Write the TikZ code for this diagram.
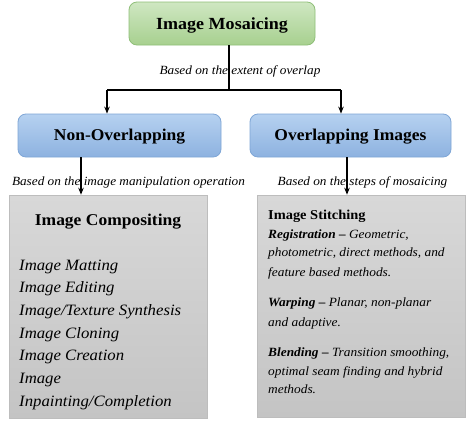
\documentclass[tikz,border=0pt]{standalone}
\usepackage{fontspec}
\setmainfont{Liberation Serif}[FakeStretch=1.06]
\usetikzlibrary{arrows.meta}
\definecolor{gtop}{HTML}{CFE7C2}
\definecolor{gbot}{HTML}{A7D08F}
\definecolor{gline}{HTML}{8FBF78}
\definecolor{btop}{HTML}{B6D1F0}
\definecolor{bbot}{HTML}{8DB2E0}
\definecolor{bline}{HTML}{7FA6D6}
\definecolor{ktop}{HTML}{D8D8D8}
\definecolor{kbot}{HTML}{C4C4C4}
\definecolor{kline}{HTML}{BDBDBD}
\tikzset{
  greenbox/.style={draw=gline, line width=0.8pt, rounded corners=8pt, top color=gtop, bottom color=gbot, minimum width=186pt, minimum height=43pt, text height=11.2pt, text depth=0pt, font=\fontsize{17}{19}\selectfont\bfseries},
  bluebox/.style={draw=bline, line width=0.8pt, rounded corners=8pt, top color=btop, bottom color=bbot, minimum height=43pt, text height=10.9pt, text depth=0pt, font=\fontsize{16.5}{18}\selectfont\bfseries},
  greybox/.style={draw=kline, line width=0.6pt, top color=ktop, bottom color=kbot},
  lbl/.style={font=\fontsize{12.5}{14}\selectfont\itshape, inner sep=0pt, anchor=base},
  item/.style={font=\fontsize{15.8}{18}\selectfont\itshape, anchor=base west, inner sep=0pt},
  ritem/.style={font=\fontsize{12.6}{14}\selectfont\itshape, anchor=base west, inner sep=0pt},
  head/.style={font=\fontsize{16.5}{18}\selectfont\bfseries, inner sep=0pt},
  arr/.style={-{Stealth[length=7pt,width=5.5pt]}, line width=1.1pt},
  conn/.style={line width=1.1pt}
}
\begin{document}
\begin{tikzpicture}[x=1pt,y=-1pt]
\useasboundingbox[fill=white] (0,0) rectangle (474,424);
\node[greenbox] (top) at (222,23.5) {Image Mosaicing};
\node[bluebox, minimum width=203pt] (left) at (119.5,135.5) {Non-Overlapping};
\node[bluebox, minimum width=201pt] (right) at (350.5,135.5) {Overlapping Images};
\node[greybox, minimum width=198pt, minimum height=223pt] (lg) at (108,306.5) {};
\node[greybox, minimum width=208pt, minimum height=222pt] (rg) at (361,306) {};
\coordinate (split) at (229,90);
\coordinate (la) at (107,90);
\coordinate (ra) at (341,90);
\coordinate (ld) at (81,150);
\coordinate (rd) at (347,150);
\draw[conn] (split |- top.south) -- (split);
\draw[conn] (la) -- (ra);
\draw[arr] (la) -- (la |- left.north);
\draw[arr] (ra) -- (ra |- right.north);
\draw[arr] (ld |- left.south) -- (ld |- lg.north);
\draw[arr] (rd |- right.south) -- (rd |- rg.north);
\node[lbl] (l1) at (240,74) {Based on the extent of overlap};
\node[lbl] (l2) at (128.5,185.5) {Based on the image manipulation operation};
\node[lbl] (l3) at (362.5,185.5) {Based on the steps of mosaicing};
\node[head, anchor=base] (h1) at (108,225) {Image Compositing};
\node[item] (a1) at (19,270) {Image Matting};
\node[item] (a2) at (19,292.7) {Image Editing};
\node[item] (a3) at (19,315.4) {Image/Texture Synthesis};
\node[item] (a4) at (19,338) {Image Cloning};
\node[item] (a5) at (19,360.8) {Image Creation};
\node[item] (a6) at (19,383.5) {Image};
\node[item] (a7) at (19,406) {Inpainting/Completion};
\node[head, anchor=base west, font=\fontsize{13.6}{15}\selectfont\bfseries] (h2) at (268,219) {Image Stitching};
\node[ritem] (b1) at (268,238.3) {\textbf{Registration --} Geometric,};
\node[ritem] (b2) at (268,256.7) {photometric, direct methods, and};
\node[ritem] (b3) at (268,276) {feature based methods.};
\node[ritem] (b4) at (268,306) {\textbf{Warping --} Planar, non-planar};
\node[ritem] (b5) at (268,326) {and adaptive.};
\node[ritem] (b6) at (268,356) {\textbf{Blending --} Transition smoothing,};
\node[ritem] (b7) at (268,375) {optimal seam finding and hybrid};
\node[ritem] (b8) at (268,393.5) {methods.};
\end{tikzpicture}
\end{document}
